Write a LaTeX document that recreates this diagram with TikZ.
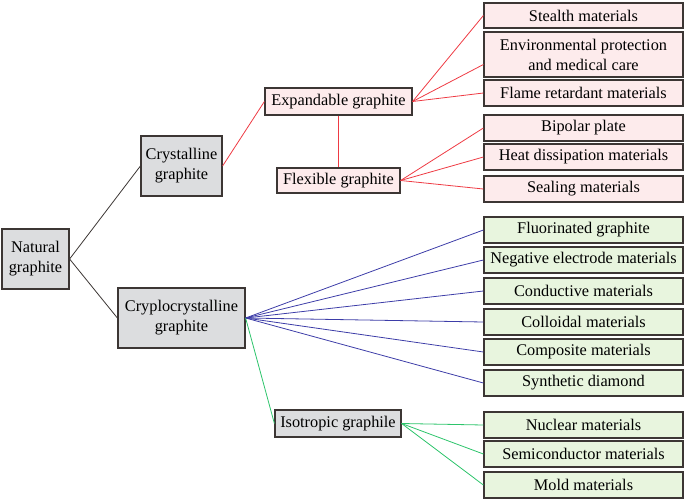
\documentclass[tikz,border=0pt]{standalone}
\usepackage{fontspec}
\setmainfont{Liberation Serif}
\definecolor{boxline}{HTML}{3C3634}
\definecolor{boxgray}{HTML}{DCDDDF}
\definecolor{boxpink}{HTML}{FDEBEC}
\definecolor{boxgreen}{HTML}{E8F5DE}
\definecolor{linered}{HTML}{EE3A43}
\definecolor{lineblue}{HTML}{3D3DA8}
\definecolor{linegreen}{HTML}{2DC46B}
\begin{document}
\begin{tikzpicture}[
        x=1pt,y=-1pt,
        every node/.style={
                font=\fontsize{16.3}{20}\selectfont, inner sep=0pt
            },
        redline/.style={draw=linered, line width=0.8pt},
        blueline/.style={draw=lineblue, line width=0.8pt},
        greenline/.style={draw=linegreen, line width=0.8pt},
        darkline/.style={draw=boxline, line width=0.8pt}
    ]
    \tikzset  {
        box/.style = {rectangle, draw=boxline, line width=1.2pt, align=center},
        graybox/.style = {box, fill=boxgray},
        pinkbox/.style = {box, fill=boxpink, minimum width=199pt, minimum height=26pt},
        greenbox/.style = {box, fill=boxgreen, minimum width=199pt, minimum height=26pt},
    }
    \useasboundingbox (0,0) rectangle (685,501);
    \node [graybox, minimum width=67pt, minimum height=60pt] (natural) at (35.5,259) {Natural\\graphite};
    \node [graybox, minimum width=81pt, minimum height=60pt] (crystalline) at (181.5,166) {Crystalline\\graphite};
    \node [graybox, minimum width=127pt, minimum height=60pt] (cryplo) at (181.5,318) {Cryplocrystalline\\graphite};
    \node [box, fill=boxpink, minimum width=147pt, minimum height=27pt] (expandable) at (338.5,101.5) {Expandable graphite};
    \node [box, fill=boxpink, minimum width=123pt, minimum height=25pt] (flexible) at (338.5,180.5) {Flexible graphite};
    \node [graybox, minimum width=126pt, minimum height=27pt] (isotropic) at (338,423.5) {Isotropic graphile};
    \node [pinkbox, minimum height=25pt] (stealth) at (583.5,15.5) {Stealth materials};
    \node [pinkbox, minimum height=45pt] (environ) at (583.5,54.5) {Environmental protection\\and medical care};
    \node [pinkbox] (flame) at (583.5,93) {Flame retardant materials};
    \node [pinkbox] (bipolar) at (583.5,128) {Bipolar plate};
    \node [pinkbox] (heat) at (583.5,157) {Heat dissipation materials};
    \node [pinkbox] (sealing) at (583.5,189) {Sealing materials};
    \node [greenbox] (fluorinated) at (583.5,230) {Fluorinated graphite};
    \node [greenbox] (negative) at (583.5,260) {Negative electrode materials};
    \node [greenbox] (conductive) at (583.5,291) {Conductive materials};
    \node [greenbox] (colloidal) at (583.5,322) {Colloidal materials};
    \node [greenbox] (composite) at (583.5,352) {Composite materials};
    \node [greenbox] (synthetic) at (583.5,383) {Synthetic diamond};
    \node [greenbox] (nuclear) at (583.5,425) {Nuclear materials};
    \node [greenbox] (semicond) at (583.5,454) {Semiconductor materials};
    \node [greenbox] (mold) at (583.5,485) {Mold materials};
    \draw [darkline] (natural.east) -- (crystalline.west);
    \draw [darkline] (natural.east) -- (cryplo.west);
    \draw [redline] (crystalline.east) -- (expandable.west);
    \draw [redline] (expandable.south) -- (flexible.north);
    \draw [redline] (expandable.east) -- (stealth.west);
    \draw [redline] (expandable.east) -- ([yshift=-10pt]environ.west);
    \draw [redline] (expandable.east) -- (flame.west);
    \draw [redline] (flexible.east) -- (bipolar.west);
    \draw [redline] (flexible.east) -- (heat.west);
    \draw [redline] (flexible.east) -- (sealing.west);
    \draw [blueline] (cryplo.east) -- (fluorinated.west);
    \draw [blueline] (cryplo.east) -- (negative.west);
    \draw [blueline] (cryplo.east) -- (conductive.west);
    \draw [blueline] (cryplo.east) -- (colloidal.west);
    \draw [blueline] (cryplo.east) -- (composite.west);
    \draw [blueline] (cryplo.east) -- (synthetic.west);
    \draw [greenline] (cryplo.east) -- (isotropic.west);
    \draw [greenline] (isotropic.east) -- (nuclear.west);
    \draw [greenline] (isotropic.east) -- (semicond.west);
    \draw [greenline] (isotropic.east) -- (mold.west);
\end{tikzpicture}
\end{document}
